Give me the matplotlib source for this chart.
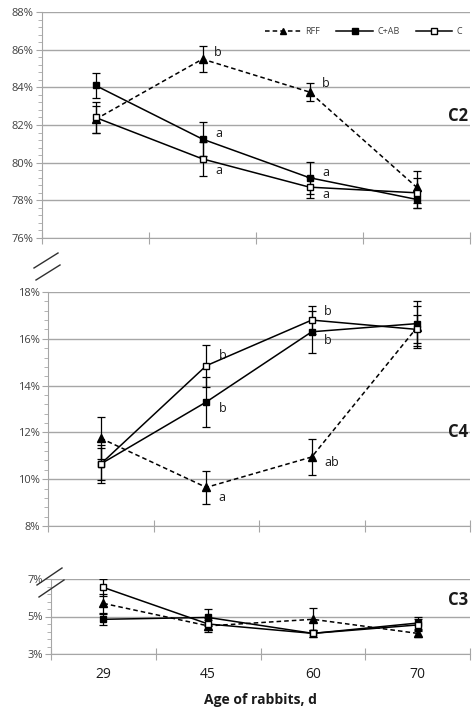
import matplotlib
matplotlib.use("Agg")
import matplotlib.pyplot as plt
from matplotlib.lines import Line2D
from matplotlib.ticker import MultipleLocator, FuncFormatter

plt.rcParams['font.family'] = ['Open Sans', 'DejaVu Sans']

ages = ['29', '45', '60', '70']
series = ['RFF', 'C+AB', 'C']

# C2 panel (%)
c2_rff = [82.3, 85.5, 83.75, 78.7]
c2_rff_err = [0.7, 0.7, 0.5, 0.85]
c2_cab = [84.1, 81.25, 79.2, 78.05]
c2_cab_err = [0.65, 0.9, 0.85, 0.45]
c2_c = [82.4, 80.2, 78.7, 78.4]
c2_c_err = [0.8, 0.9, 0.55, 0.8]

# C4 panel (%)
c4_rff = [11.75, 9.65, 10.95, 16.5]
c4_rff_err = [0.9, 0.7, 0.75, 0.9]
c4_cab = [10.65, 13.3, 16.3, 16.65]
c4_cab_err = [0.8, 1.05, 0.9, 0.95]
c4_c = [10.65, 14.85, 16.8, 16.4]
c4_c_err = [0.7, 0.9, 0.6, 0.6]

# C3 panel (%)
c3_rff = [5.7, 4.5, 4.85, 4.1]
c3_rff_err = [0.5, 0.3, 0.6, 0.2]
c3_cab = [4.85, 4.95, 4.1, 4.65]
c3_cab_err = [0.3, 0.45, 0.2, 0.3]
c3_c = [6.55, 4.6, 4.1, 4.55]
c3_c_err = [0.45, 0.3, 0.2, 0.3]

# significance letters: (series, age index, letter)
c2_letters = [('RFF', 1, 'b'), ('RFF', 2, 'b'), ('C+AB', 1, 'a'),
              ('C', 1, 'a'), ('C+AB', 2, 'a'), ('C', 2, 'a')]
c4_letters = [('C', 1, 'b'), ('C+AB', 1, 'b'), ('C', 2, 'b'),
              ('C+AB', 2, 'b'), ('RFF', 2, 'ab'), ('RFF', 1, 'a')]

grid_col = '#a6a6a6'
txt_col = '#404040'

styles = {
    'RFF': dict(ls=(0, (3, 2)), marker='^', mfc='black', ms=5.5),
    'C+AB': dict(ls='-', marker='s', mfc='black', ms=4.5),
    'C': dict(ls='-', marker='s', mfc='white', ms=4.5),
}

fig = plt.figure(figsize=(4.74, 7.11), dpi=100)
W, H = 474.0, 711.0


def add_panel(left, top, bottom, ylo, yhi, step, data, label, letters,
              letter_offsets):
    ax = fig.add_axes([left / W, 1 - bottom / H, (470 - left) / W, (bottom - top) / H])
    x = [i + 0.5 for i in range(len(ages))]
    for name, (vals, errs) in zip(series, data):
        st = styles[name]
        ax.errorbar(x, vals, yerr=errs, color='black', lw=1.1, ls=st['ls'],
                    marker=st['marker'], mfc=st['mfc'], mec='black', ms=st['ms'],
                    ecolor='black', elinewidth=0.9, capsize=3, capthick=0.9,
                    zorder=3)
    ax.set_xlim(0, len(ages))
    ax.set_ylim(ylo, yhi)
    ax.yaxis.set_major_locator(MultipleLocator(step, offset=ylo % step))
    ax.yaxis.set_minor_locator(MultipleLocator(step / 5, offset=ylo % step))
    ax.yaxis.set_major_formatter(FuncFormatter(lambda v, p: f'{v:.0f}%'))
    ax.grid(axis='y', color=grid_col, lw=1.0)
    ax.set_axisbelow(True)
    for s in ['top', 'right']:
        ax.spines[s].set_visible(False)
    ax.spines['left'].set_color(grid_col)
    ax.spines['bottom'].set_color(grid_col)
    ax.set_xticks(range(len(ages) + 1))
    ax.set_xticklabels([])
    ax.tick_params(axis='x', direction='inout', length=8, color=grid_col)
    ax.tick_params(axis='y', which='major', length=4, color=grid_col,
                   labelsize=8, labelcolor=txt_col, pad=2)
    ax.tick_params(axis='y', which='minor', length=3, color=grid_col)
    ax.text(0.995, label[1], label[0], transform=ax.transAxes, ha='right',
            va='center', fontsize=12, fontweight='bold', color='#1a1a1a')
    lookup = dict(zip(series, [d[0] for d in data]))
    for (name, i, let), (dx, dy) in zip(letters, letter_offsets):
        ax.annotate(let, (x[i], lookup[name][i]), xytext=(dx, dy),
                    textcoords='offset points', fontsize=9, color='#1a1a1a',
                    ha='left', va='center')
    return ax


ax1 = add_panel(42, 12, 238, 76, 88, 2,
                [(c2_rff, c2_rff_err), (c2_cab, c2_cab_err), (c2_c, c2_c_err)],
                ('C2', 0.54), c2_letters,
                [(8, 5), (9, 6), (9, 4), (9, -8), (9, 4), (9, -5)])
handles = [Line2D([], [], color='black', lw=1.1, ls=styles[n]['ls'],
                  marker=styles[n]['marker'], mfc=styles[n]['mfc'], mec='black',
                  ms=styles[n]['ms'] - 0.5) for n in series]
ax1.legend(handles, series, loc='upper right', bbox_to_anchor=(1.0, 0.97),
           ncol=3, frameon=False, fontsize=6.5, handlelength=4.0,
           columnspacing=1.8, handletextpad=0.5, labelcolor=txt_col)

ax2 = add_panel(48, 292, 526, 8, 18, 2,
                [(c4_rff, c4_rff_err), (c4_cab, c4_cab_err), (c4_c, c4_c_err)],
                ('C4', 0.4), c4_letters,
                [(9, 7), (9, -5), (9, 6), (9, -6), (9, -4), (9, -7)])

ax3 = add_panel(51, 579, 654, 3, 7, 2,
                [(c3_rff, c3_rff_err), (c3_cab, c3_cab_err), (c3_c, c3_c_err)],
                ('C3', 0.72), [], [])
ax3.set_xticks([i + 0.5 for i in range(len(ages))], minor=True)
ax3.set_xticklabels(ages, minor=True)
ax3.tick_params(axis='x', which='minor', length=0, labelsize=10,
                labelcolor='#1a1a1a', pad=9)
ax3.set_xlabel('Age of rabbits, d', fontsize=10, fontweight='bold',
               color='#1a1a1a', labelpad=8)

# axis break marks
for (x0, y0, x1, y1) in [(34, 268, 58, 253), (36, 280, 60, 265),
                         (37, 585, 62, 568), (39, 597, 64, 580)]:
    fig.add_artist(Line2D([x0 / W, x1 / W], [1 - y0 / H, 1 - y1 / H],
                          color='#303030', lw=1.0))

fig.savefig('out.png', dpi=100)
